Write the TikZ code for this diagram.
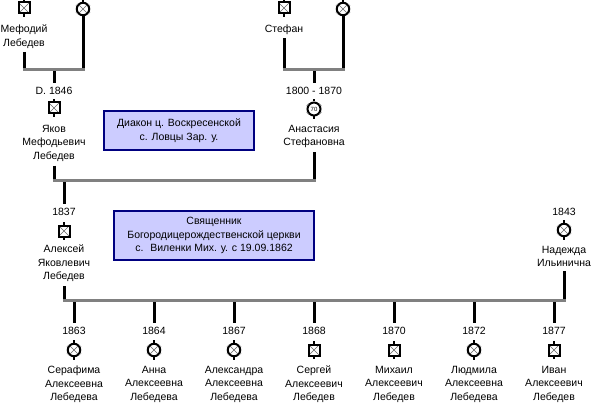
\documentclass[tikz,border=0pt]{standalone}
\usepackage{fontspec}
\setmainfont{Liberation Sans}
\usetikzlibrary{calc}
\definecolor{notefill}{RGB}{204,204,255}
\definecolor{noteline}{RGB}{0,0,128}
\tikzset{
  male/.style={draw, line width=2pt, inner sep=0pt, minimum size=11pt, fill=white,
    path picture={\draw[line width=0.6pt, black!60]
      (path picture bounding box.south west) -- (path picture bounding box.north east)
      (path picture bounding box.north west) -- (path picture bounding box.south east);}},
  female/.style={male, circle, minimum size=12.5pt},
  who/.style={align=center, inner sep=0pt, anchor=north},
  year/.style={inner sep=0pt},
  vline/.style={line width=3pt},
  bar/.style={line width=3pt, draw=black!50, line cap=rect},
  stub/.style={line width=2pt},
  tick/.style={line width=0.6pt, black!45},
  note/.style={draw=noteline, fill=notefill, line width=2.5pt, align=center}
}

\begin{document}
\begin{tikzpicture}[x=1pt, y=-1pt, font=\fontsize{10.5}{13.5}\selectfont]
  \useasboundingbox (0,0) rectangle (593,403);

  % grandparents
  \node[male] (mef) at (24,8) {};
  \node[female] (mefw) at (83,9) {};
  \node[who] (mefn) at (24,25) {Мефодий\\Лебедев};
  \node[male] (stef) at (284,8) {};
  \node[female] (stefw) at (343,9) {};
  \node[who] (stefn) at (284,25) {Стефан};
  \coordinate (b1l) at (24,70);
  \coordinate (b1r) at (83,70);
  \coordinate (b1c) at (54,70);
  \coordinate (b2l) at (284,70);
  \coordinate (b2r) at (343,70);
  \coordinate (b2c) at (314,70);

  % parents
  \node[year] (yaky) at (54,91) {D. 1846};
  \node[male] (yak) at (54,108) {};
  \node[who] (yakn) at (54,125) {Яков\\Мефодьевич\\Лебедев};
  \node[year] (anasty) at (314,91) {1800 - 1870};
  \node[draw, circle, line width=2pt, inner sep=0pt, minimum size=13pt, fill=white,
    font=\fontsize{6}{6}\selectfont] (anast) at (314,109) {70};
  \node[who] (anastn) at (314,125) {Анастасия\\Стефановна};
  \node[note, minimum width=150pt, minimum height=39pt] (note1) at (179,130.5)
    {Диакон ц. Воскресенской\\с. Ловцы Зар. у.};
  \coordinate (b3l) at (54,181);
  \coordinate (b3r) at (314,181);
  \coordinate (b3c) at (64,181);

  % Aleksej and Nadezhda
  \node[year] (aleksy) at (64,212) {1837};
  \node[male] (aleks) at (64,231) {};
  \node[who] (aleksn) at (64,245) {Алексей\\Яковлевич\\Лебедев};
  \node[year] (nady) at (564,212) {1843};
  \node[female] (nad) at (564,230) {};
  \node[who] (nadn) at (564,246) {Надежда\\Ильинична};
  \node[note, minimum width=200pt, minimum height=49pt] (note2) at (214,235.5)
    {Священник\\Богородицерождественской церкви\\с.~ Виленки Мих. у. с 19.09.1862};
  \coordinate (b4l) at (64,300);
  \coordinate (b4r) at (564,300);

  % children
  \foreach \x/\yr/\sx/\fst/\mid/\lst [count=\i] in {
      74/1863/female/Серафима/Алексеевна/Лебедева,
      154/1864/female/Анна/Алексеевна/Лебедева,
      234/1867/female/Александра/Алексеевна/Лебедева,
      314/1868/male/Сергей/Алексеевич/Лебедев,
      394/1870/male/Михаил/Алексеевич/Лебедев,
      474/1872/female/Людмила/Алексеевна/Лебедева,
      554/1877/male/Иван/Алексеевич/Лебедев}{
    \coordinate (k\i) at (\x,300);
    \node[year] (y\i) at (\x,331) {\yr};
    \node[\sx] (c\i) at (\x,350) {};
    \node[who] (n\i) at (\x,366) {\fst\\\mid\\\lst};
    \draw[vline, shorten >=4pt] (k\i) -- (y\i);
  }

  % stubs and ticks
  \foreach \n in {mef,mefw,stef,stefw,yak,anast,aleks,nad,c1,c2,c3,c4,c5,c6,c7}{
    \draw[stub] (\n.north) -- ++(0,-2.5);
    \draw[stub] (\n.south) -- ++(0,2.5);
  }
  \foreach \n in {mefw,stefw,anast,nad,c1,c2,c3,c6}
    \foreach \a in {45,135,225,315}
      \draw[tick] (\n.\a) -- +(\a:3);

  % lines
  \draw[vline, shorten <=3pt] (mefn) -- (b1l);
  \draw[vline] (mefw) -- (b1r);
  \draw[vline, shorten <=3pt] (stefn) -- (b2l);
  \draw[vline] (stefw) -- (b2r);
  \draw[vline, shorten >=4pt] (b1c) -- (yaky);
  \draw[vline, shorten >=4pt] (b2c) -- (anasty);
  \draw[vline, shorten <=4pt] (yakn) -- (b3l);
  \draw[vline, shorten <=4pt] (anastn) -- (b3r);
  \draw[vline, shorten >=4pt] (b3c) -- (aleksy);
  \draw[vline, shorten <=4pt] (aleksn) -- (b4l);
  \draw[vline, shorten <=4pt] (nadn) -- (b4r);
  \draw[bar] (b1l) -- (b1r);
  \draw[bar] (b2l) -- (b2r);
  \draw[bar] (b3l) -- (b3r);
  \draw[bar] (b4l) -- (b4r);
\end{tikzpicture}
\end{document}
